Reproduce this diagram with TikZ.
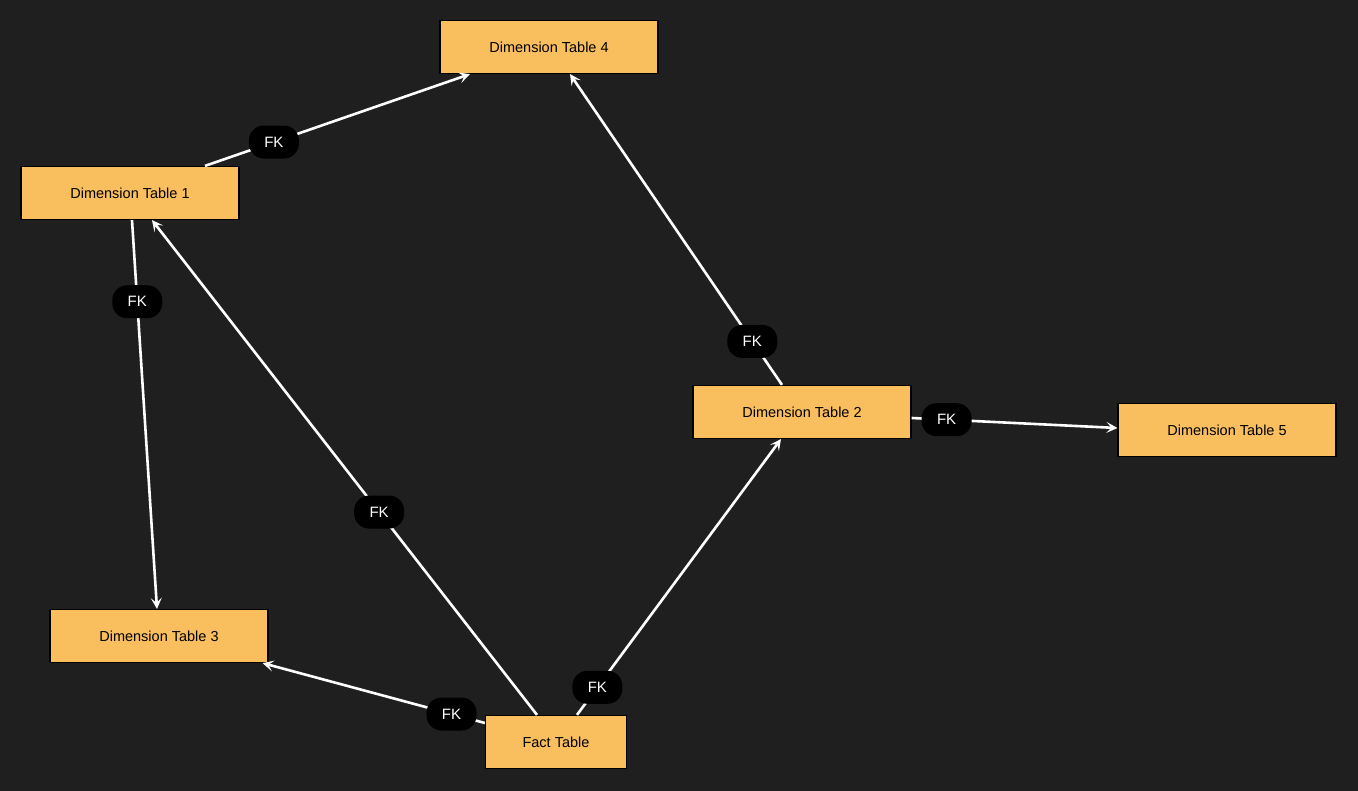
\documentclass[tikz,border=0pt]{standalone}
\usepackage{fontspec}
\setmainfont{Liberation Sans}
\usetikzlibrary{arrows.meta}
\definecolor{bg}{HTML}{1F1F1F}
\definecolor{boxc}{HTML}{F9BE5E}
\tikzset{
  tbl/.style={draw=black, line width=1.2pt, fill=boxc, minimum width=218pt, minimum height=53pt, inner sep=0pt, font=\fontsize{14.5}{16}\selectfont},
  fk/.style={fill=black, text=white, rounded corners=15pt, minimum width=50pt, minimum height=33pt, inner sep=0pt, font=\fontsize{15}{16}\selectfont},
  link/.style={draw=white, line width=2.6pt, -{Stealth[length=11pt,width=11pt,inset=5pt]}}
}
\begin{document}
\begin{tikzpicture}[x=1pt,y=-1pt]
\fill[bg] (0,0) rectangle (1358,791);
\useasboundingbox (0,0) rectangle (1358,791);
\node[tbl] (d4) at (549,47) {Dimension Table 4};
\node[tbl] (d1) at (130,193) {Dimension Table 1};
\node[tbl] (d2) at (802,412) {Dimension Table 2};
\node[tbl] (d5) at (1227,430) {Dimension Table 5};
\node[tbl] (d3) at (159,636) {Dimension Table 3};
\node[tbl, minimum width=141pt] (f) at (556,742) {Fact Table};
\draw[link] ([xshift=75pt]d1.north) -- node[fk,pos=0.26]{FK} ([xshift=-79pt]d4.south);
\draw[link] ([xshift=2pt]d1.south) -- node[fk,pos=0.21]{FK} ([xshift=-2pt]d3.north);
\draw[link] ([xshift=-19pt]f.north) -- node[fk,pos=0.41]{FK} ([xshift=22pt]d1.south);
\draw[link] ([yshift=19pt]f.west) -- node[fk,pos=0.15]{FK} ([xshift=-6pt]d3.south east);
\draw[link] ([xshift=21pt]f.north) -- node[fk,pos=0.10]{FK} ([xshift=-21pt]d2.south);
\draw[link] ([xshift=-20pt]d2.north) -- node[fk,pos=0.14]{FK} ([xshift=21pt]d4.south);
\draw[link] ([yshift=-6pt]d2.east) -- node[fk,pos=0.17]{FK} ([yshift=2pt]d5.west);
\end{tikzpicture}
\end{document}
